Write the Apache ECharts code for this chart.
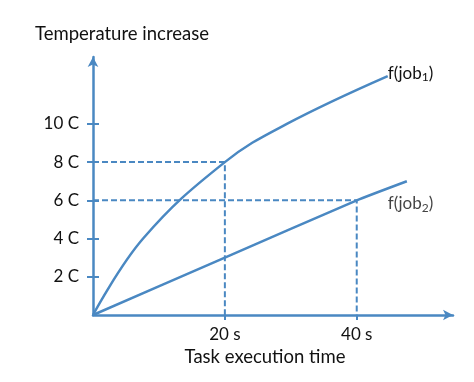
<!DOCTYPE html>
<html><head><meta charset="utf-8">
<script src="https://cdn.jsdelivr.net/npm/echarts@6/dist/echarts.min.js"></script>
<style>html,body{margin:0;padding:0;background:#fff}#c{width:474px;height:382px}</style>
</head><body><div id="c"></div>
<script>
const xName = 'Task execution time';
const yName = 'Temperature increase';
const timeTicks = [20, 40];
const tempTicks = [2, 4, 6, 8, 10];
const job1Time = [0, 7.6, 20, 29.4, 44.7];
const job1Temp = [0, 4, 8, 10, 12.5];
const job2Time = [0, 20, 40, 47.6];
const job2Temp = [0, 3, 6, 7];
const job2LabelAt = [40, 6];
const guide1 = [[0, 8], [20, 8], [20, 0]];
const guide2 = [[0, 6], [40, 6], [40, 0]];
const xMax = 54.6, yMax = 13.5;

const blue = '#4a88c2';
const ink = '#111';
const font = 'Lato, "Open Sans", sans-serif';
const chart = echarts.init(document.getElementById('c'));
const zip = (a, b) => a.map((v, i) => [v, b[i]]);
const subRich = {s: {fontSize: 12, padding: [9, 0, 0, 0], fontFamily: font, color: ink}};

chart.setOption({
  animation: false,
  backgroundColor: '#fff',
  grid: {left: 93, top: 57, right: 21, bottom: 67},
  xAxis: [{
    type: 'value', min: 0, max: xMax,
    name: xName, nameLocation: 'middle', nameGap: 31,
    nameTextStyle: {color: ink, fontSize: 18.5, fontFamily: font, padding: [0, 16, 0, 0]},
    axisLine: {lineStyle: {color: blue, width: 2.5}, symbol: ['none', 'arrow'], symbolSize: [8, 10]},
    axisTick: {show: true, customValues: timeTicks, length: 5, lineStyle: {color: blue, width: 2}},
    axisLabel: {customValues: timeTicks, formatter: v => v + ' s', color: ink, fontSize: 17, fontFamily: font, margin: 11},
    splitLine: {show: false}
  }],
  yAxis: [{
    type: 'value', min: 0, max: yMax,
    name: yName, nameLocation: 'end', nameGap: 13,
    nameTextStyle: {color: ink, fontSize: 18.5, fontFamily: font, align: 'center', padding: [0, 0, 0, 58]},
    axisLine: {lineStyle: {color: blue, width: 2.5}, symbol: ['none', 'arrow'], symbolSize: [8, 10]},
    axisTick: {show: true, customValues: tempTicks, length: 6, lineStyle: {color: blue, width: 2}},
    axisLabel: {customValues: tempTicks, formatter: v => v + ' C', color: ink, fontSize: 17, fontFamily: font, margin: 14},
    splitLine: {show: false}
  }, {
    type: 'value', min: 0, max: yMax, position: 'left',
    axisLine: {show: false},
    axisTick: {show: true, inside: true, customValues: tempTicks, length: 6, lineStyle: {color: blue, width: 2}},
    axisLabel: {show: false}, splitLine: {show: false}
  }],
  series: [
    {type: 'line', data: guide1, symbol: 'none', silent: true,
     lineStyle: {color: blue, width: 2, type: [6, 3]}},
    {type: 'line', data: guide2, symbol: 'none', silent: true,
     lineStyle: {color: blue, width: 2, type: [6, 3]}},
    {type: 'line', name: 'f(job1)', data: zip(job1Time, job1Temp), smooth: 0.4, symbol: 'none',
     lineStyle: {color: blue, width: 2.5},
     endLabel: {show: true, formatter: 'f(job{s|1})', distance: 0, offset: [0, -3], color: ink, fontSize: 17, fontFamily: font, rich: subRich}},
    {type: 'line', name: 'f(job2)', data: zip(job2Time, job2Temp), smooth: 0.15, symbol: 'none',
     lineStyle: {color: blue, width: 2.5}},
    {type: 'scatter', data: [job2LabelAt], symbolSize: 0, silent: true,
     label: {show: true, position: 'right', distance: 31, offset: [0, 3], formatter: 'f(job{s|2})',
       color: ink, fontSize: 17, fontFamily: font, rich: subRich}}
  ]
});
</script></body></html>
